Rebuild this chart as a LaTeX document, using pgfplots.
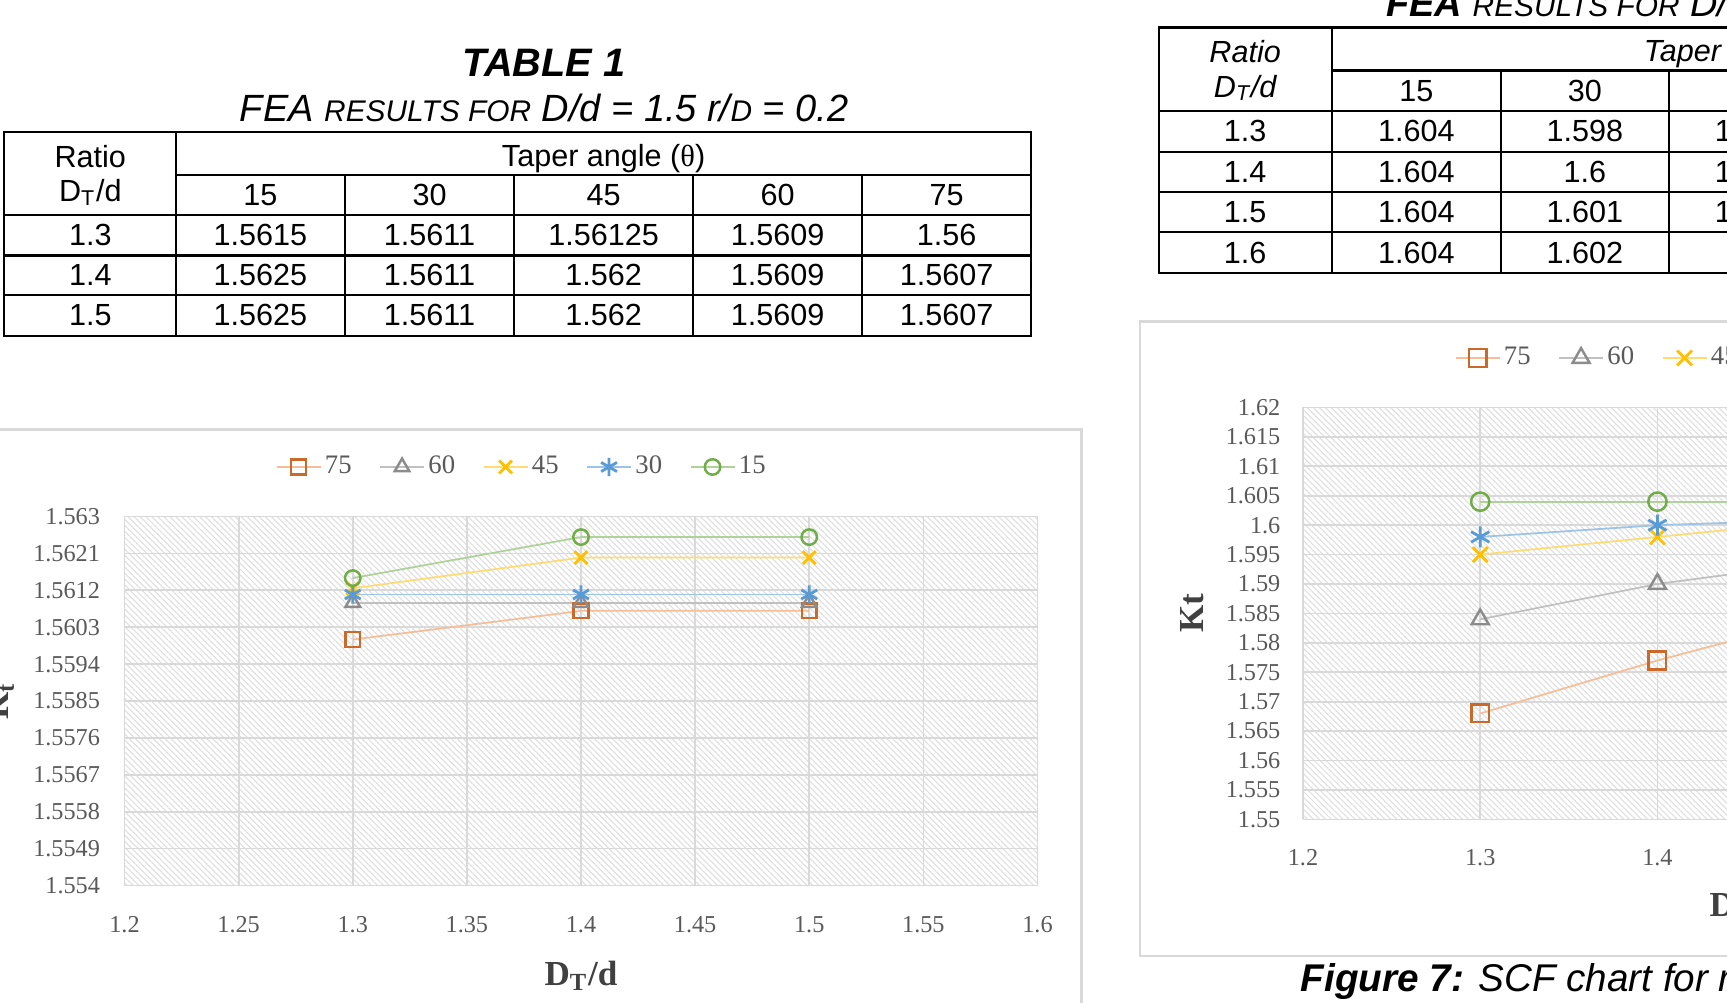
\documentclass[border=0pt]{standalone}
\usepackage{fontspec}
\setmainfont{Liberation Sans}
\newfontfamily\serif{Liberation Serif}
\usepackage{pgfplots}
\pgfplotsset{compat=1.18}
\usetikzlibrary{patterns.meta}

\definecolor{c75}{RGB}{237,125,49}
\definecolor{c60}{RGB}{165,165,165}
\definecolor{c45}{RGB}{255,192,0}
\definecolor{c30}{RGB}{91,155,213}
\definecolor{c15}{RGB}{112,173,71}
\definecolor{tk}{RGB}{89,89,89}
\definecolor{frame}{RGB}{217,217,217}

\pgfplotsset{
  excel/.style={
    scale only axis,
    axis line style={draw=none},
    major tick length=0pt,
    grid=major,
    major grid style={draw=black!15, line width=0.5pt},
    axis background/.style={fill=white, postaction={pattern={Lines[angle=-45,distance=1.2pt,line width=0.3pt]}, pattern color=black!13}},
    tick label style={font=\serif\fontsize{6.9}{8}\selectfont, text=tk},
    xticklabel style={anchor=center},
    yticklabel style={anchor=east, inner sep=0pt},
    label style={font=\serif\bfseries\fontsize{10}{12}\selectfont, text=black!75},
    legend style={draw=none, fill=none, inner sep=0pt, font=\serif\fontsize{7.6}{9}\selectfont, text=tk,
      legend columns=-1, nodes={inner sep=1pt},
      /tikz/every even column/.append style={column sep=2.4mm}},
    legend image code/.code={\draw[mark repeat=2,mark phase=2,##1] plot coordinates {(0mm,0mm) (2.2mm,0mm) (4.4mm,0mm)};},
  },
  s75/.style={color=c75!50, line width=0.5pt, mark=square, mark size=#1, mark options={draw=c75!85!black, fill=white, line width=0.7pt}},
  s60/.style={color=c60!70, line width=0.5pt, mark=triangle, mark size=#1, mark options={draw=c60!85!black, fill=white, line width=0.7pt}},
  s45/.style={color=c45!55, line width=0.5pt, mark=x, mark size=#1, mark options={draw=c45, line width=0.8pt}},
  s30/.style={color=c30!60, line width=0.5pt, mark=asterisk, mark size=#1, mark options={draw=c30, line width=0.8pt}},
  s15/.style={color=c15!55, line width=0.5pt, mark=o, mark size=#1, mark options={draw=c15, fill=white, line width=0.7pt}},
}

\newcommand{\tf}{\fontsize{8.7}{10}\selectfont}
\newcommand{\smc}{\fontsize{8.5}{10}\selectfont}

\begin{document}
\begin{tikzpicture}
\useasboundingbox (0,0) rectangle (172.7mm,100.3mm);
\clip (0,0) rectangle (172.7mm,100.3mm);
\fill[white] (0,0) rectangle (172.7mm,100.3mm);

\begin{scope}[x=0.1mm,y=0.1mm]
% ---------- left table ----------
\node[font=\bfseries\itshape\fontsize{11.3}{13}\selectfont] at (544,940) {TABLE 1};
\node[font=\itshape\fontsize{10.8}{12}\selectfont] at (544,895) {FEA {\smc RESULTS FOR} D/d = 1.5 r/{\smc D} = 0.2};
\begin{scope}[line width=0.6pt]
\draw (4.4,871) rectangle (1031,667);
\draw (176.2,871) -- (176.2,667);
\draw (176.2,828) -- (1031,828);
\foreach \yy in {788,747.5,708} \draw (4.4,\yy) -- (1031,\yy);
\foreach \xx in {344.7,514.4,692.8,862.4} \draw (\xx,828) -- (\xx,667);
\end{scope}
\begin{scope}[every node/.style={font=\tf, inner sep=0pt}]
\node at (90.3,846) {Ratio};
\node at (90.3,810.3) {D\textsubscript{T}/d};
\node at (603.6,844.5) {Taper angle ({\serif θ})};
\node at (260.45,808) {15}; \node at (429.55,808) {30}; \node at (603.6,808) {45};
\node at (777.6,808) {60}; \node at (946.7,808) {75};
\node at (90.3,767.75) {1.3}; \node at (260.45,767.75) {1.5615}; \node at (429.55,767.75) {1.5611};
\node at (603.6,767.75) {1.56125}; \node at (777.6,767.75) {1.5609}; \node at (946.7,767.75) {1.56};
\node at (90.3,727.75) {1.4}; \node at (260.45,727.75) {1.5625}; \node at (429.55,727.75) {1.5611};
\node at (603.6,727.75) {1.562}; \node at (777.6,727.75) {1.5609}; \node at (946.7,727.75) {1.5607};
\node at (90.3,687.5) {1.5}; \node at (260.45,687.5) {1.5625}; \node at (429.55,687.5) {1.5611};
\node at (603.6,687.5) {1.562}; \node at (777.6,687.5) {1.5609}; \node at (946.7,687.5) {1.5607};
\end{scope}

% ---------- right table ----------
\node[anchor=base west, font=\itshape\fontsize{10.8}{12}\selectfont, inner sep=0pt] at (1385.5,986) {{\bfseries FEA} {\smc RESULTS FOR} D/d = 1.5 r/{\smc D} = 0.15};
\begin{scope}[line width=0.6pt]
\draw (1900,975.5) -- (1158.7,975.5) -- (1158.7,730) -- (1900,730);
\draw (1331.6,975.5) -- (1331.6,730);
\draw (1331.6,932.5) -- (1900,932.5);
\foreach \yy in {892,851,811.4,770.6} \draw (1158.7,\yy) -- (1900,\yy);
\foreach \xx in {1501,1668.6} \draw (\xx,932.5) -- (\xx,730);
\end{scope}
\begin{scope}[every node/.style={font=\tf, inner sep=0pt}]
\node[font=\tf\itshape] at (1245.15,951) {Ratio};
\node[font=\tf\itshape] at (1245.15,915) {D\textsubscript{T}/d};
\node[font=\tf\itshape] at (1746,949.5) {Taper angle ({\serif θ})};
\node at (1416.3,912.25) {15}; \node at (1584.8,912.25) {30}; \node at (1753,912.25) {45};
\node at (1245.15,871.5) {1.3}; \node at (1416.3,871.5) {1.604}; \node at (1584.8,871.5) {1.598}; \node at (1753,871.5) {1.595};
\node at (1245.15,831.2) {1.4}; \node at (1416.3,831.2) {1.604}; \node at (1584.8,831.2) {1.6}; \node at (1753,831.2) {1.598};
\node at (1245.15,791) {1.5}; \node at (1416.3,791) {1.604}; \node at (1584.8,791) {1.601}; \node at (1753,791) {1.601};
\node at (1245.15,750.3) {1.6}; \node at (1416.3,750.3) {1.604}; \node at (1584.8,750.3) {1.602}; \node at (1753,750.3) {1.6};
\end{scope}

% ---------- chart frames ----------
\draw[frame, line width=0.7pt] (-5,-5) -- (-5,573.5) -- (1081.6,573.5) -- (1081.6,-5);
\draw[frame, line width=0.7pt] (1900,47) -- (1140,47) -- (1140,681.4) -- (1900,681.4);

% ---------- caption ----------
\node[anchor=base west, inner sep=0pt, font=\fontsize{11}{13}\selectfont] at (1300,11) {{\bfseries\itshape Figure 7:} {\itshape SCF chart for r/D = 0.15}};
\end{scope}

% ---------- left chart ----------
\begin{axis}[excel, at={(12.45mm,11.75mm)}, anchor=south west,
  width=91.3mm, height=36.89mm,
  xmin=1.2, xmax=1.6, ymin=1.554, ymax=1.563,
  xtick={1.2,1.25,1.3,1.35,1.4,1.45,1.5,1.55,1.6},
  xticklabels={1.2,1.25,1.3,1.35,1.4,1.45,1.5,1.55,1.6},
  ytick={1.554,1.5549,1.5558,1.5567,1.5576,1.5585,1.5594,1.5603,1.5612,1.5621,1.563},
  yticklabels={1.554,1.5549,1.5558,1.5567,1.5576,1.5585,1.5594,1.5603,1.5612,1.5621,1.563},
  xticklabel style={yshift=-3.95mm},
  yticklabel style={xshift=-2.38mm},
  xlabel={D\textsubscript{T}/d},
  xlabel style={at={(axis description cs:0.5,-0.2453)}, anchor=center},
  ylabel={K\textsubscript{t}},
  ylabel style={at={(axis description cs:-0.1364,0.5)}, anchor=center},
  legend style={at={(axis description cs:0.1648,1.1345)}, anchor=west},
]
\addplot[s75=2.1pt] coordinates {(1.3,1.56) (1.4,1.5607) (1.5,1.5607)};
\addlegendentry{75}
\addplot[s60=2.4pt] coordinates {(1.3,1.5609) (1.4,1.5609) (1.5,1.5609)};
\addlegendentry{60}
\addplot[s45=2.6pt] coordinates {(1.3,1.56125) (1.4,1.562) (1.5,1.562)};
\addlegendentry{45}
\addplot[s30=2.6pt] coordinates {(1.3,1.5611) (1.4,1.5611) (1.5,1.5611)};
\addlegendentry{30}
\addplot[s15=2.2pt] coordinates {(1.3,1.5615) (1.4,1.5625) (1.5,1.5625)};
\addlegendentry{15}
\end{axis}

% ---------- right chart ----------
\begin{axis}[excel, at={(130.3mm,18.36mm)}, anchor=south west,
  width=88.6mm, height=41.19mm,
  xmin=1.2, xmax=1.7, ymin=1.55, ymax=1.62,
  xtick={1.2,1.3,1.4,1.5,1.6,1.7},
  xticklabels={1.2,1.3,1.4,1.5,1.6,1.7},
  ytick={1.55,1.555,1.56,1.565,1.57,1.575,1.58,1.585,1.59,1.595,1.6,1.605,1.61,1.615,1.62},
  yticklabels={1.55,1.555,1.56,1.565,1.57,1.575,1.58,1.585,1.59,1.595,1.6,1.605,1.61,1.615,1.62},
  xticklabel style={yshift=-3.86mm},
  yticklabel style={xshift=-2.2mm},
  xlabel={D\textsubscript{T}/d},
  xlabel style={at={(axis description cs:0.5,-0.2115)}, anchor=center},
  ylabel={Kt},
  ylabel style={at={(axis description cs:-0.1256,0.5)}, anchor=center},
  legend style={at={(axis description cs:0.1704,1.1202)}, anchor=west},
]
\addplot[s75=2.5pt] coordinates {(1.3,1.568) (1.4,1.577) (1.5,1.585) (1.6,1.59)};
\addlegendentry{75}
\addplot[s60=2.8pt] coordinates {(1.3,1.584) (1.4,1.59) (1.5,1.594) (1.6,1.596)};
\addlegendentry{60}
\addplot[s45=3pt] coordinates {(1.3,1.595) (1.4,1.598) (1.5,1.601) (1.6,1.6)};
\addlegendentry{45}
\addplot[s30=3pt] coordinates {(1.3,1.598) (1.4,1.6) (1.5,1.601) (1.6,1.602)};
\addlegendentry{30}
\addplot[s15=2.6pt] coordinates {(1.3,1.604) (1.4,1.604) (1.5,1.604) (1.6,1.604)};
\addlegendentry{15}
\end{axis}
\end{tikzpicture}
\end{document}
